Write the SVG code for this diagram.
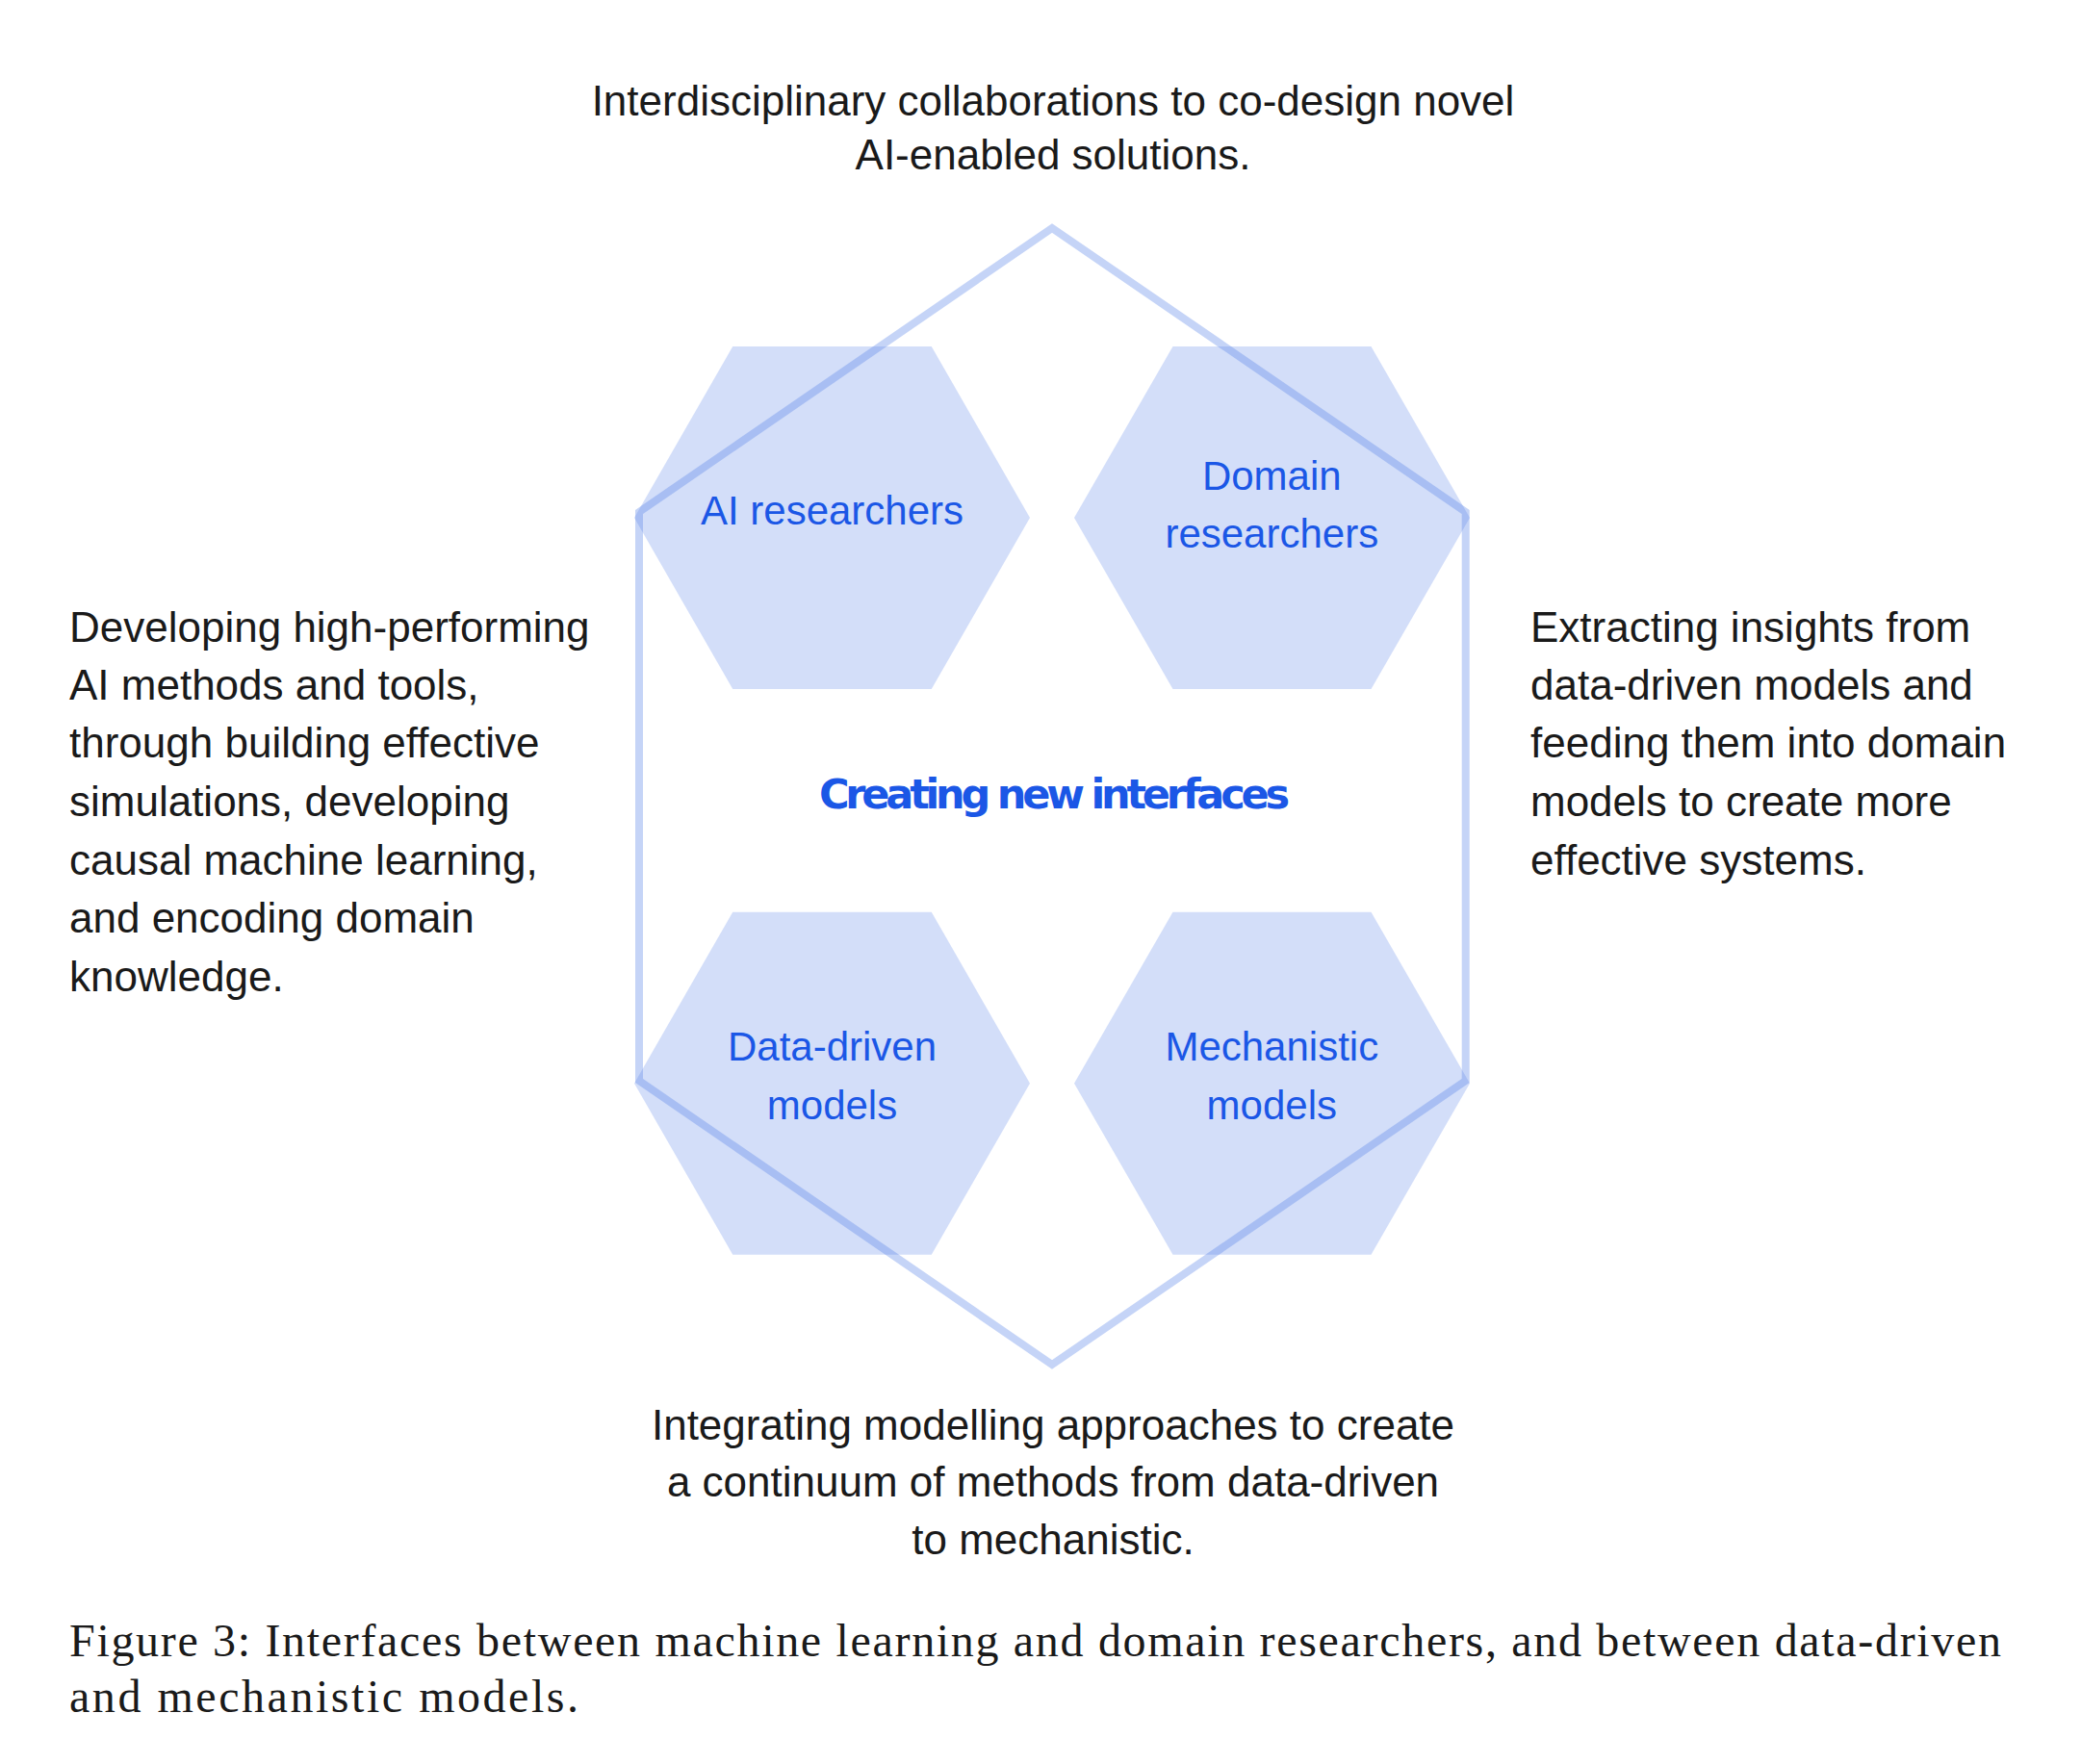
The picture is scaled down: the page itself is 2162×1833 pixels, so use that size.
<svg xmlns="http://www.w3.org/2000/svg" width="2162" height="1833" viewBox="0 0 2162 1833">
  <style>
    .hex { fill: #5480e7; fill-opacity: 0.26; stroke: none; }
    .outline { fill: none; stroke: #5480e7; stroke-opacity: 0.34; stroke-width: 8; stroke-linejoin: miter; }
    .lbl { font-family: "Liberation Sans", Arial, sans-serif; font-size: 42px; fill: #1b57e6; text-anchor: middle; }
    .center { font-family: "DejaVu Sans", Verdana, sans-serif; font-weight: bold; font-size: 43px; fill: #1b57e6; }
    .body { font-family: "Liberation Sans", Arial, sans-serif; font-size: 44px; fill: #1a1a1a; }
    .mid { text-anchor: middle; }
    .cap { font-family: "Liberation Serif", "Times New Roman", serif; font-size: 48px; fill: #1a1a1a; }
  </style>
  <rect x="0" y="0" width="2162" height="1833" fill="#ffffff"/>

  <g id="node-ai-researchers">
    <polygon class="hex" points="659,538 761.25,360 967.75,360 1070,538 967.75,716 761.25,716"/>
    <text class="lbl" x="864.5" y="545">AI researchers</text>
  </g>
  <g id="node-domain-researchers">
    <polygon class="hex" points="1116,538 1218.5,360 1424.5,360 1527,538 1424.5,716 1218.5,716"/>
    <text class="lbl" x="1321.3" y="509">Domain</text>
    <text class="lbl" x="1321.3" y="569">researchers</text>
  </g>
  <g id="node-data-driven-models">
    <polygon class="hex" points="659,1125.7 761.25,947.7 967.75,947.7 1070,1125.7 967.75,1303.7 761.25,1303.7"/>
    <text class="lbl" x="864.5" y="1102">Data-driven</text>
    <text class="lbl" x="864.5" y="1163">models</text>
  </g>
  <g id="node-mechanistic-models">
    <polygon class="hex" points="1116,1125.7 1218.5,947.7 1424.5,947.7 1527,1125.7 1424.5,1303.7 1218.5,1303.7"/>
    <text class="lbl" x="1321.3" y="1102">Mechanistic</text>
    <text class="lbl" x="1321.3" y="1163">models</text>
  </g>

  <g id="connectors">
    <polygon class="outline" points="1093,237 1522.7,532 1522.7,1123 1093,1418 664,1123 664,532"/>
  </g>

  <g id="node-center">
    <text class="center" x="851" y="840" textLength="489" lengthAdjust="spacing">Creating new interfaces</text>
  </g>

  <g id="text-top">
    <text class="body mid" x="1094" y="120">Interdisciplinary collaborations to co-design novel</text>
    <text class="body mid" x="1094" y="176">AI-enabled solutions.</text>
  </g>
  <g id="text-left">
    <text class="body" x="72" y="667">Developing high-performing</text>
    <text class="body" x="72" y="727">AI methods and tools,</text>
    <text class="body" x="72" y="787">through building effective</text>
    <text class="body" x="72" y="848">simulations, developing</text>
    <text class="body" x="72" y="909">causal machine learning,</text>
    <text class="body" x="72" y="969">and encoding domain</text>
    <text class="body" x="72" y="1030">knowledge.</text>
  </g>
  <g id="text-right">
    <text class="body" x="1590" y="667">Extracting insights from</text>
    <text class="body" x="1590" y="727">data-driven models and</text>
    <text class="body" x="1590" y="787">feeding them into domain</text>
    <text class="body" x="1590" y="848">models to create more</text>
    <text class="body" x="1590" y="909">effective systems.</text>
  </g>
  <g id="text-bottom">
    <text class="body mid" x="1094" y="1496">Integrating modelling approaches to create</text>
    <text class="body mid" x="1094" y="1555">a continuum of methods from data-driven</text>
    <text class="body mid" x="1094" y="1615">to mechanistic.</text>
  </g>
  <g id="caption">
    <text class="cap" x="72" y="1721" textLength="2007" lengthAdjust="spacing">Figure 3: Interfaces between machine learning and domain researchers, and between data-driven</text>
    <text class="cap" x="72" y="1779" textLength="529" lengthAdjust="spacing">and mechanistic models.</text>
  </g>
</svg>
